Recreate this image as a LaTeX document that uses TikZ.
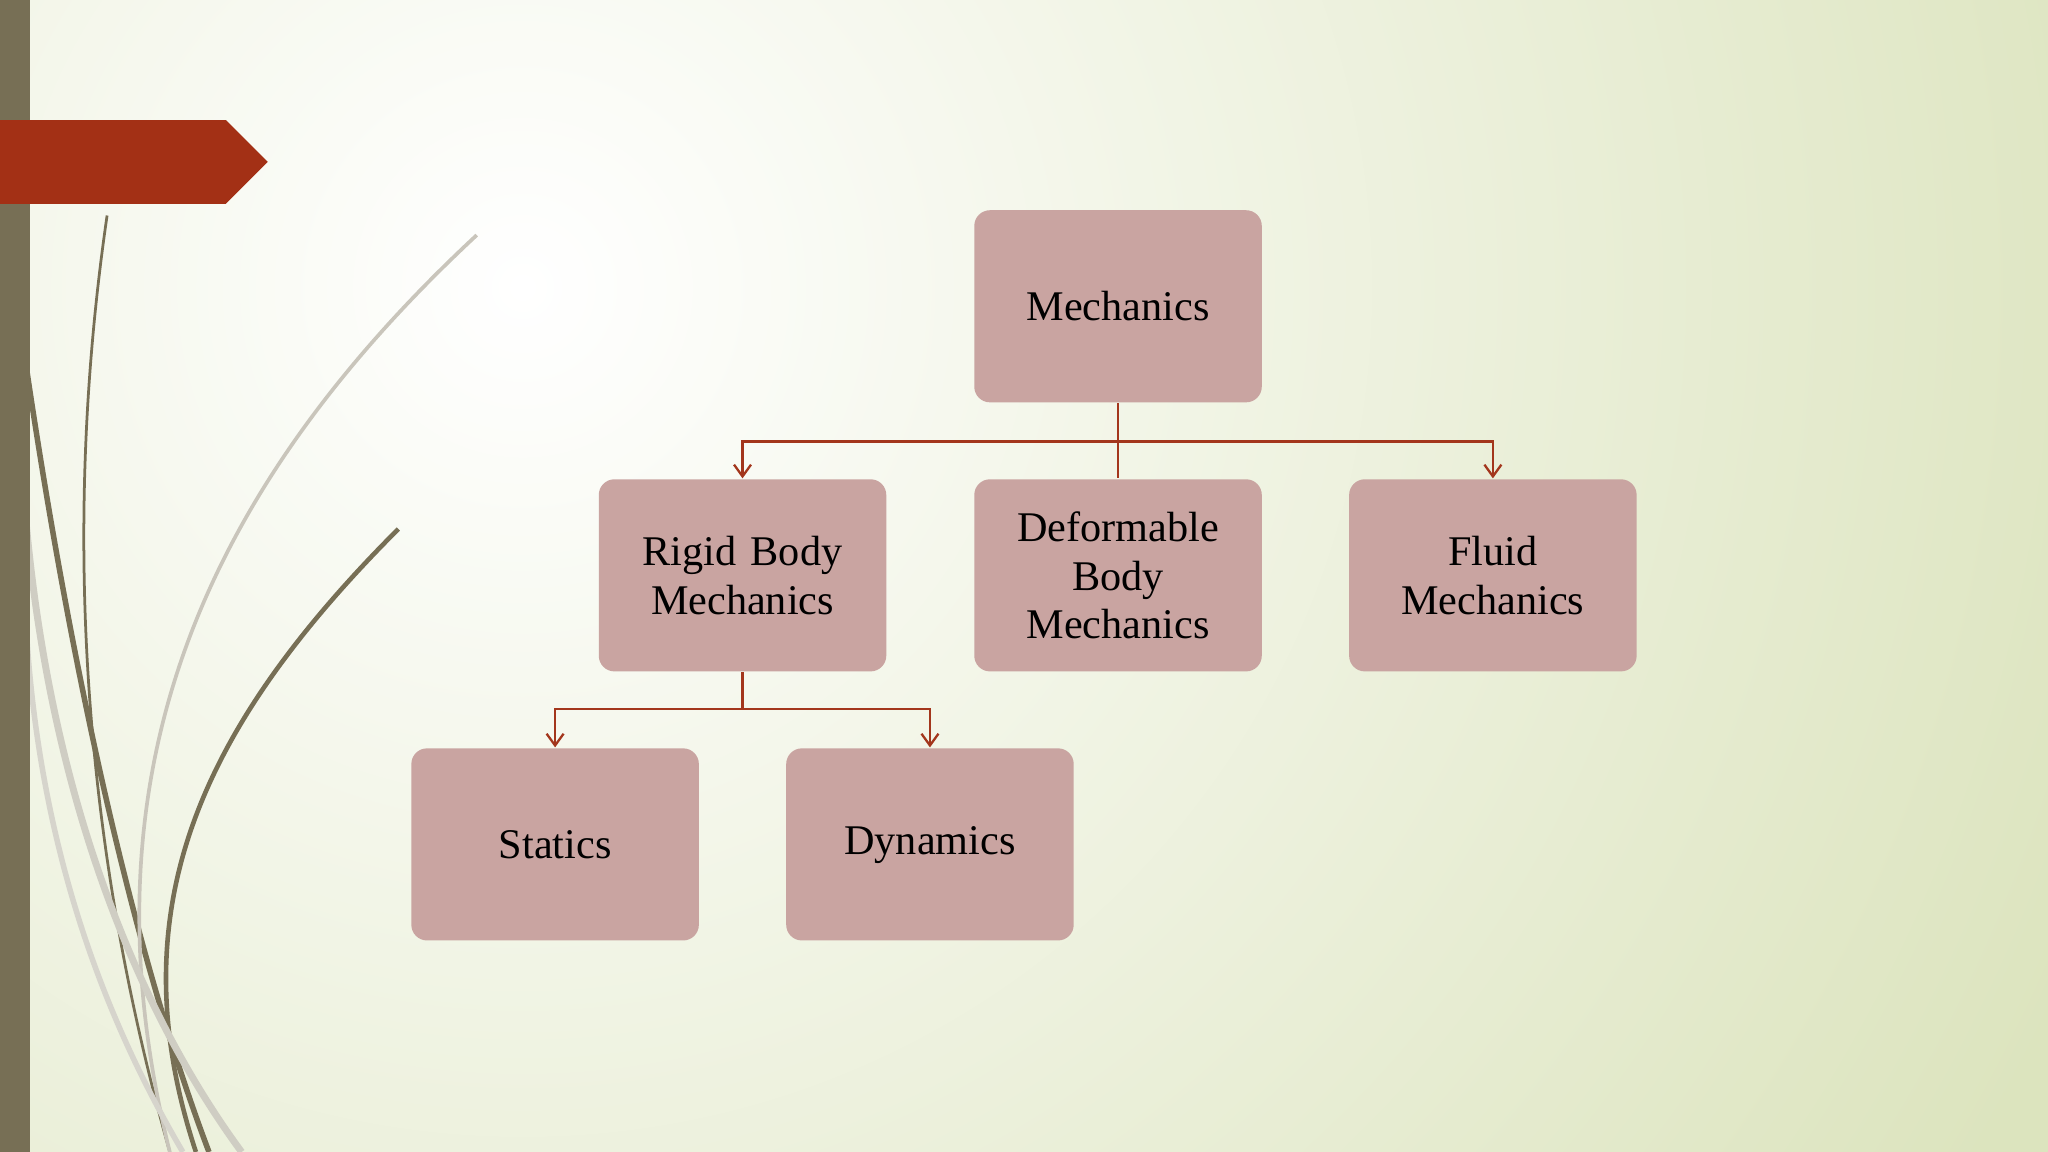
\documentclass[tikz,border=0pt]{standalone}
\usepackage{fontspec}
\setmainfont{Liberation Serif}
\usetikzlibrary{arrows.meta}
\definecolor{bgg}{HTML}{DCE4BE}
\definecolor{boxc}{HTML}{C9A4A1}
\definecolor{linec}{HTML}{A3361C}
\definecolor{barc}{HTML}{776F55}
\definecolor{redc}{HTML}{A33015}
\tikzset{
 box/.style={draw=none,fill=boxc,rounded corners=0.12cm,minimum width=2.2cm,minimum height=1.47cm,text width=2.1cm,align=center,font=\fontsize{9.2}{10.6}\selectfont,inner sep=0pt},
 conn/.style={draw=linec,line width=0.5pt},
 arr/.style={conn,-{Straight Barb[length=0.9mm,width=1.3mm]}},
 grass/.style={draw=barc,line width=0.6pt}
}
\begin{document}
\begin{tikzpicture}[x=0.01cm,y=-0.01cm]
\useasboundingbox (0,0) rectangle (1568,882);
\fill[bgg] (0,0) rectangle (1568,882);
\begin{scope}
\clip (0,0) rectangle (1568,882);
\shade[inner color=white,outer color=bgg] (400,220) circle (1300);
\end{scope}
% grass
\draw[grass] (82,165) .. controls (55,350) and (50,600) .. (130,882);
\draw[grass,line width=1.2pt] (20,280) .. controls (60,550) and (110,750) .. (160,882);
\draw[grass,line width=1pt] (305,405) .. controls (150,560) and (90,700) .. (150,882);
\draw[grass,draw=barc!40,line width=0.8pt] (365,180) .. controls (150,380) and (60,600) .. (130,882);
\draw[grass,draw=barc!35,line width=1.5pt] (20,400) .. controls (40,620) and (110,780) .. (185,882);
\draw[grass,draw=barc!30,line width=1.2pt] (20,480) .. controls (30,650) and (80,780) .. (140,882);
\fill[barc] (0,0) rectangle (23,882);
\fill[redc] (0,92) -- (173,92) -- (205,124) -- (173,156) -- (0,156) -- cycle;
% boxes
\node[box] (mech) at (856,234.5) {Mechanics};
\node[box] (rigid) at (568.5,440.5) {Rigid Body\\Mechanics};
\node[box] (def) at (856,440.5) {Deformable\\Body\\Mechanics};
\node[box] (fluid) at (1143,440.5) {Fluid\\Mechanics};
\node[box] (stat) at (425,646.5) {Statics};
\node[box] (dyn) at (712,646.5) {\strut Dynamics};
\coordinate (j1) at (856,338);
\coordinate (j2) at (568.5,543);
\draw[conn] (mech.south) -- (def.north);
\draw[arr] (j1) -| (rigid.north);
\draw[arr] (j1) -| (fluid.north);
\draw[conn] (rigid.south) -- (j2);
\draw[arr] (j2) -| (stat.north);
\draw[arr] (j2) -| (dyn.north);
\end{tikzpicture}
\end{document}
